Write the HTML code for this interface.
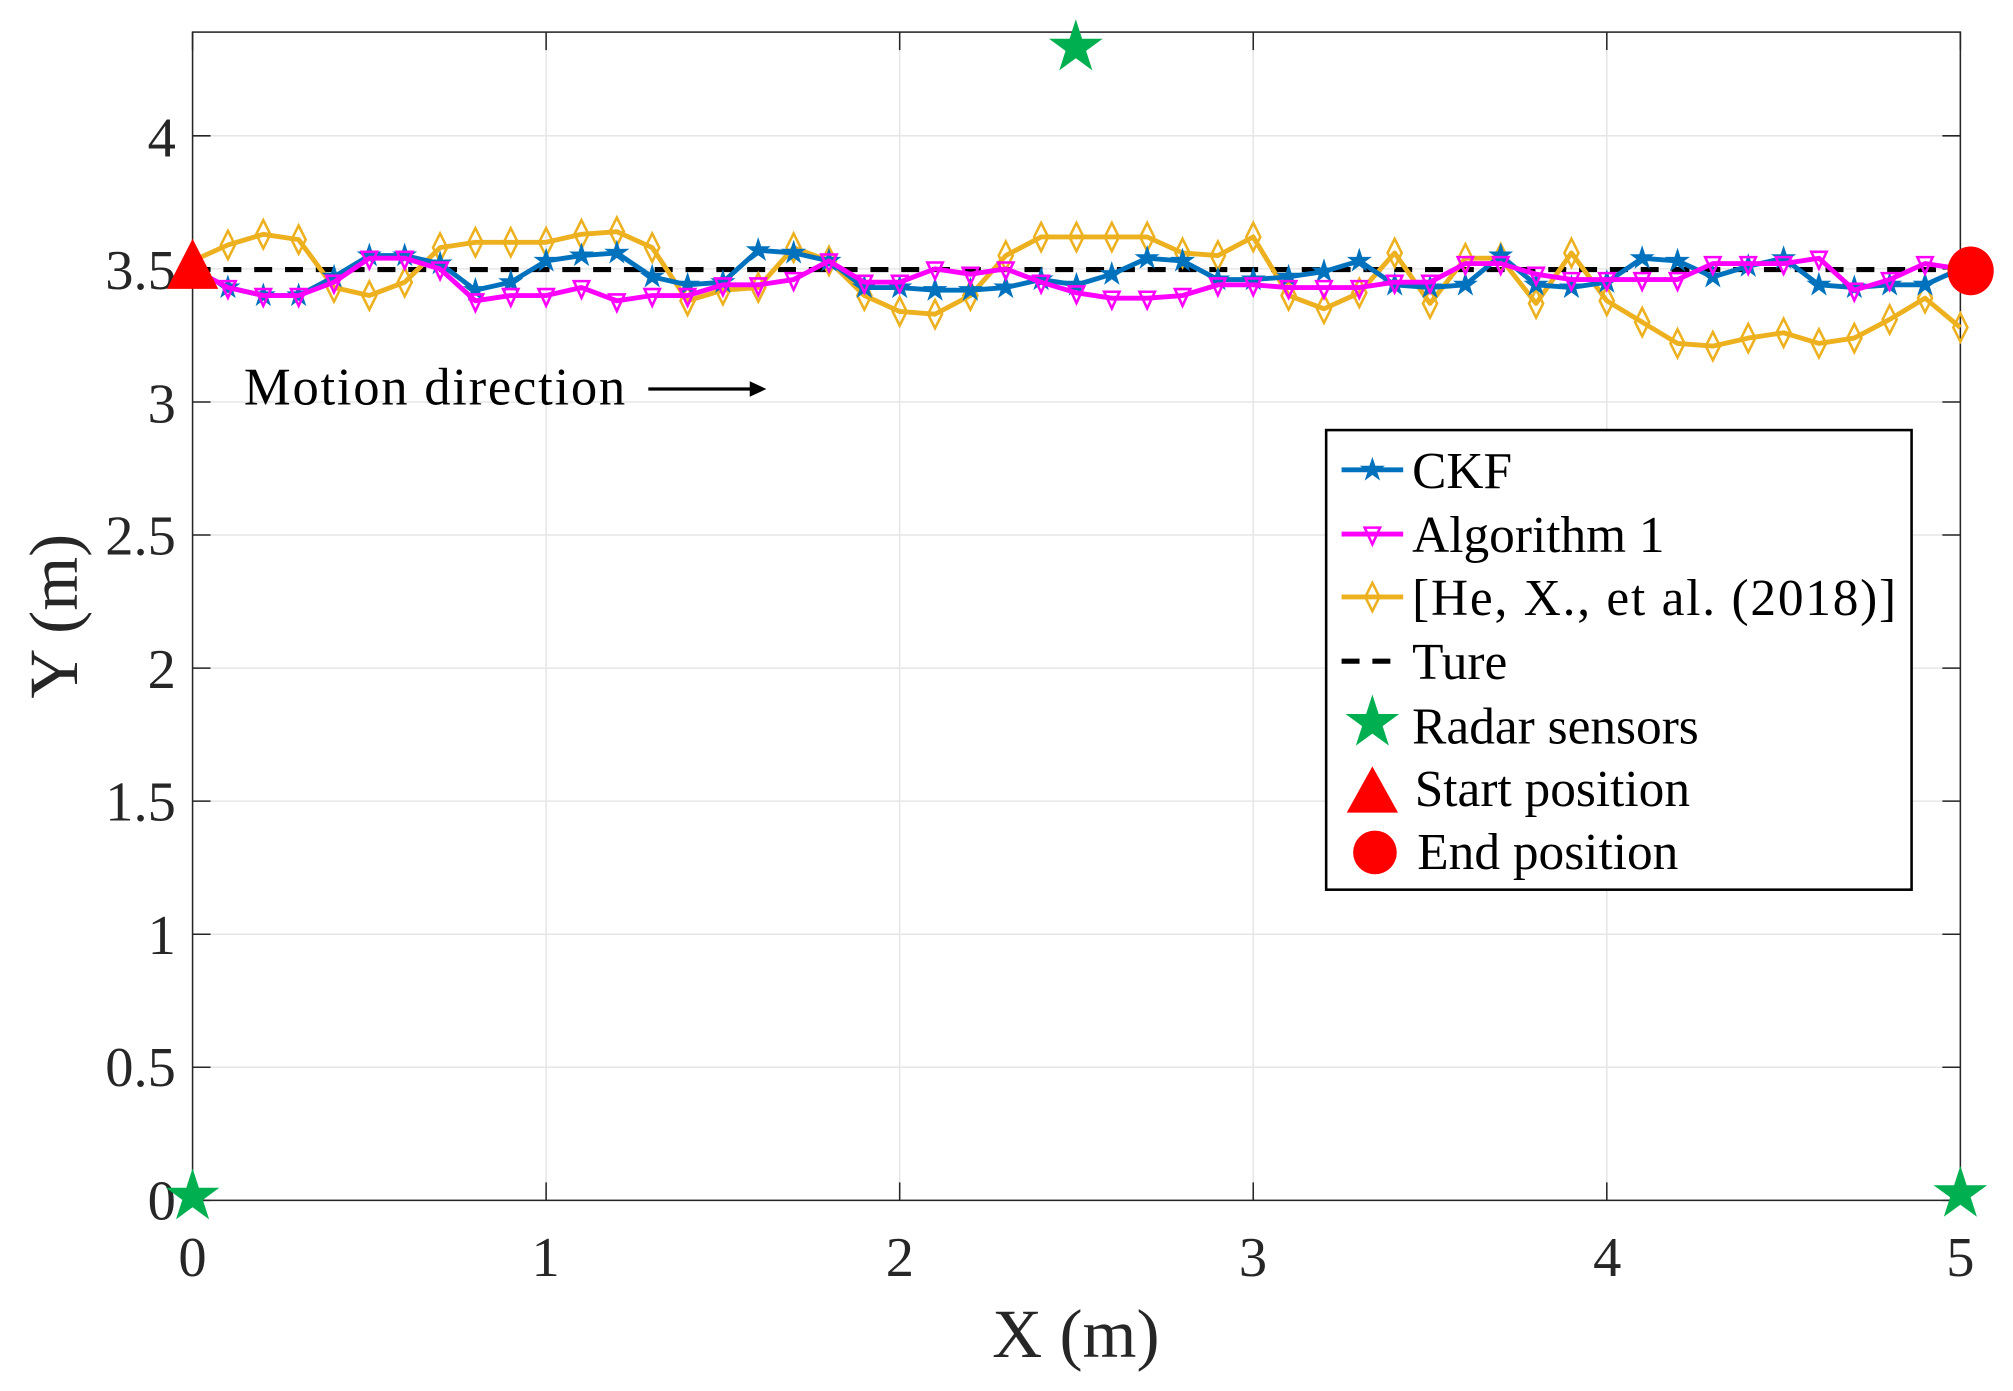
<!DOCTYPE html>
<html><head><meta charset="utf-8"><style>
html,body{margin:0;padding:0;background:#fff;}
svg{display:block;}
text{font-family:"Liberation Serif",serif;fill:#262626;}
</style></head><body>
<svg id="s" width="2013" height="1391" viewBox="0 0 1568 1083.5" preserveAspectRatio="none" xmlns="http://www.w3.org/2000/svg">
<rect width="1568" height="1083.5" fill="#fff"/>
<g id="grid" stroke="#e6e6e6" stroke-width="1.2"></g>
<rect x="150" y="25" width="1377" height="910" fill="none" stroke="#262626" stroke-width="1.2"/>
<g id="ticks" stroke="#262626" stroke-width="1.2"></g>
<g font-size="44" text-anchor="end">
<text x="137" y="950">0</text><text x="137" y="846">0.5</text><text x="137" y="743">1</text>
<text x="137" y="639">1.5</text><text x="137" y="536">2</text><text x="137" y="432">2.5</text>
<text x="137" y="329">3</text><text x="137" y="225">3.5</text><text x="137" y="122">4</text>
</g>
<g font-size="44" text-anchor="middle">
<text x="150" y="994">0</text><text x="425" y="994">1</text><text x="701" y="994">2</text>
<text x="976" y="994">3</text><text x="1252" y="994">4</text><text x="1527" y="994">5</text>
</g>
<text x="838" y="1057" font-size="54" text-anchor="middle">X (m)</text>
<text transform="translate(60,480) rotate(-90)" font-size="54" text-anchor="middle">Y (m)</text>
<text x="190" y="315" font-size="41" style="fill:#000" textLength="297">Motion direction</text>
<line x1="505" y1="303" x2="588" y2="303" stroke="#000" stroke-width="2.5"/>
<polygon points="597,303 584,297 584,309" fill="#000"/>
<line x1="150" y1="210" x2="1527" y2="210" stroke="#000" stroke-width="4" stroke-dasharray="14,10"/>
<g id="series"></g>
<g id="marks"></g>
<rect x="1033" y="335" width="456" height="358" fill="#fff" stroke="#000" stroke-width="2"/>
<g id="leg"></g>
<g font-size="40">
<text x="1100" y="380" style="fill:#000">CKF</text>
<text x="1100" y="430" style="fill:#000">Algorithm 1</text>
<text x="1100" y="479" style="fill:#000" textLength="377">[He, X., et al. (2018)]</text>
<text x="1100" y="529" style="fill:#000">Ture</text>
<text x="1100" y="579" style="fill:#000">Radar sensors</text>
<text x="1102" y="628" style="fill:#000">Start position</text>
<text x="1104" y="677" style="fill:#000">End position</text>
</g>
</svg>
<script>
const NS="http://www.w3.org/2000/svg";
function el(p,t,a){const e=document.createElementNS(NS,t);for(const k in a)e.setAttribute(k,a[k]);p.appendChild(e);return e;}
const X=v=>150+v*275.4, Y=v=>935-v*207.3;
const g=document.getElementById('grid'),tk=document.getElementById('ticks');
for(let i=1;i<5;i++){el(g,'line',{x1:X(i),x2:X(i),y1:25,y2:935});}
for(let i=1;i<9;i++){el(g,'line',{x1:150,x2:1527,y1:Y(i*0.5),y2:Y(i*0.5)});}
for(let i=0;i<=5;i++){el(tk,'line',{x1:X(i),x2:X(i),y1:935,y2:921});el(tk,'line',{x1:X(i),x2:X(i),y1:25,y2:39});}
for(let i=0;i<9;i++){el(tk,'line',{x1:150,x2:164,y1:Y(i*0.5),y2:Y(i*0.5)});el(tk,'line',{x1:1527,x2:1513,y1:Y(i*0.5),y2:Y(i*0.5)});}
const ckf=[3.5,3.43,3.40,3.40,3.47,3.55,3.55,3.52,3.42,3.45,3.53,3.55,3.56,3.47,3.44,3.45,3.57,3.56,3.53,3.43,3.43,3.42,3.42,3.43,3.46,3.44,3.48,3.54,3.53,3.46,3.46,3.47,3.49,3.53,3.44,3.43,3.44,3.55,3.44,3.43,3.45,3.54,3.53,3.47,3.51,3.54,3.44,3.43,3.44,3.44,3.50];
const alg=[3.5,3.43,3.40,3.40,3.45,3.54,3.54,3.50,3.38,3.40,3.40,3.43,3.38,3.40,3.40,3.44,3.44,3.46,3.53,3.45,3.45,3.50,3.48,3.50,3.45,3.41,3.39,3.39,3.40,3.44,3.44,3.43,3.43,3.43,3.45,3.45,3.52,3.52,3.48,3.46,3.46,3.46,3.46,3.52,3.52,3.52,3.54,3.42,3.46,3.52,3.50];
const he=[3.53,3.59,3.63,3.61,3.43,3.40,3.45,3.58,3.60,3.60,3.60,3.63,3.64,3.58,3.38,3.42,3.43,3.58,3.53,3.40,3.34,3.33,3.40,3.55,3.62,3.62,3.62,3.62,3.56,3.55,3.62,3.40,3.35,3.41,3.56,3.37,3.54,3.54,3.37,3.56,3.38,3.30,3.22,3.21,3.24,3.26,3.22,3.24,3.31,3.39,3.28];
const sg=document.getElementById('series');
function star(p,x,y,r,fill,sw){let pts=[];for(let i=0;i<10;i++){const a=-Math.PI/2+i*Math.PI/5,rr=i%2?r*0.38:r;pts.push((x+rr*Math.cos(a)).toFixed(1)+','+(y+rr*Math.sin(a)).toFixed(1));}
 el(p,'polygon',{points:pts.join(' '),fill:fill,stroke:sw?fill:'none','stroke-width':sw||0});}
function marker(p,type,x,y,c){
 if(type==='s'){star(p,x,y,7,c,2);}
 else if(type==='v'){el(p,'polygon',{points:`${x-6},${y-5} ${x+6},${y-5} ${x},${y+8}`,fill:'none',stroke:c,'stroke-width':2});}
 else {el(p,'polygon',{points:`${x},${y-11} ${x+5.5},${y} ${x},${y+11} ${x-5.5},${y}`,fill:'none',stroke:c,'stroke-width':2});}
}
function series(d,c,type){
 el(sg,'polyline',{points:d.map((v,i)=>X(i*0.1)+','+Y(v)).join(' '),fill:'none',stroke:c,'stroke-width':3.8,'stroke-linejoin':'round'});
 d.forEach((v,i)=>marker(sg,type,X(i*0.1),Y(v),c));
}
series(he,'#EDB120','d');series(ckf,'#0072BD','s');series(alg,'#FF00FF','v');
const m=document.getElementById('marks');
star(m,150,932,22,'#00B050');star(m,1527,930,22,'#00B050');star(m,838,37,22,'#00B050');
el(m,'polygon',{points:'150,186 130,225 170,225',fill:'#FF0000'});
el(m,'ellipse',{cx:1535,cy:211,rx:18,ry:19,fill:'#FF0000'});
const lg=document.getElementById('leg');
[[366,'#0072BD','s'],[416,'#FF00FF','v'],[465,'#EDB120','d']].forEach(([y,c,t])=>{el(lg,'line',{x1:1045,x2:1093,y1:y,y2:y,stroke:c,'stroke-width':3.8});marker(lg,t,1069,y,c);});
el(lg,'line',{x1:1045,x2:1093,y1:515,y2:515,stroke:'#000','stroke-width':4,'stroke-dasharray':'14,10'});
star(lg,1069,563,22,'#00B050');
el(lg,'polygon',{points:'1069,597 1049,633 1089,633',fill:'#FF0000'});
el(lg,'circle',{cx:1071,cy:664,r:17,fill:'#FF0000'});
</script>
</body></html>
